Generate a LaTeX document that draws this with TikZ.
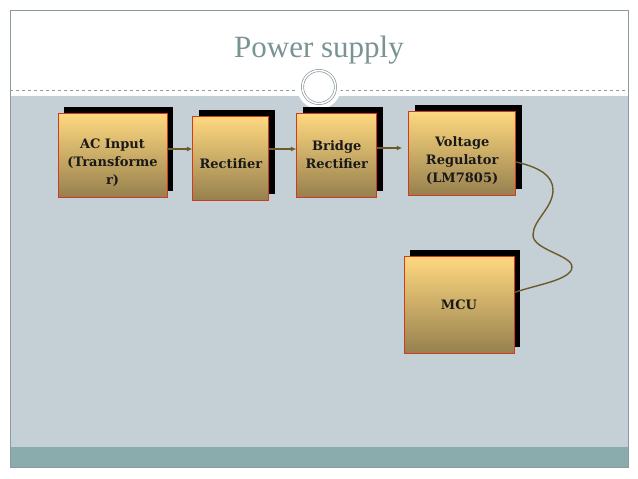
\documentclass[tikz,border=0pt]{standalone}
\usepackage{fontspec}
\setmainfont{DejaVu Serif}
\newfontfamily\headfont{Liberation Serif}
\usetikzlibrary{arrows.meta, positioning, shadows}

\definecolor{slidegray}{HTML}{C5D0D6}
\definecolor{bandteal}{HTML}{8AACAD}
\definecolor{framegray}{HTML}{8A9A9E}
\definecolor{headteal}{HTML}{7A9494}
\definecolor{boxtop}{HTML}{FFD980}
\definecolor{boxbot}{HTML}{96804E}
\definecolor{boxedge}{HTML}{CF3B22}
\definecolor{wireolive}{HTML}{6E5A28}

\begin{document}
\begin{tikzpicture}[
    x=1pt, y=-1pt,
    >=Latex,
    blockbox/.style={draw=boxedge, line width=0.9pt, rectangle,
        top color=boxtop, bottom color=boxbot,
        general shadow={fill=black, shadow xshift=6pt, shadow yshift=6pt},
        text width=2.6cm, align=center, inner sep=2pt,
        font=\fontsize{13}{18}\selectfont\bfseries, text=black!90},
    lowtext/.style={execute at begin node={\rule{0pt}{#1}}},
    flow/.style={draw=wireolive, line width=1.3pt,
        -{Latex[length=5.5pt, width=5pt]}},
    wire/.style={draw=wireolive, line width=1.4pt},
    titletext/.style={font=\headfont\fontsize{31}{33}\selectfont, text=headteal}
]

% Slide background
\fill[white] (0,0) rectangle (638,479);
\fill[slidegray] (10,96) rectangle (628,447);
\fill[bandteal] (10,447) rectangle (628,467);
\draw[framegray, line width=0.8pt] (10,10) rectangle (628,467);
\draw[framegray, dashed, line width=0.6pt] (10,90) -- (628,90);

% Title and ornament
\node[titletext] (title) at (319,50) {Power supply};
\node[circle, fill=white, minimum size=44pt] (halo) at (319,87) {};
\node[circle, draw=framegray, double=white, double distance=1.5pt,
    line width=0.7pt, minimum size=33pt] (ornament) at (319,87) {};

% Nodes
\node[blockbox, lowtext=26pt, minimum width=109pt, minimum height=84pt, text width=104pt]
    (acin) at (112.5,155) {AC Input\\(Transforme\\r)};
\node[blockbox, lowtext=21pt, minimum width=76pt, minimum height=84pt, text width=72pt,
    right=25pt of acin, yshift=-3pt] (rect) {Rectifier};
\node[blockbox, minimum width=80pt, minimum height=84pt, text width=76pt,
    right=27pt of rect, yshift=3pt] (bridge) {Bridge\\Rectifier};
\node[blockbox, lowtext=25pt, minimum width=107pt, minimum height=84pt, text width=100pt,
    right=31pt of bridge, yshift=2pt] (volt) {Voltage\\Regulator\\(LM7805)};
\node[blockbox, minimum width=110pt, minimum height=97pt, text width=100pt]
    (mcu) at (459,304.5) {MCU};

% Paths
\draw[flow] ([yshift=6pt]acin.east) -- ([yshift=6pt]acin.east -| rect.west);
\draw[flow] ([yshift=9pt]rect.east) -- ([yshift=9pt]rect.east -| bridge.west);
\draw[flow, shorten >=6pt] ([yshift=7pt]bridge.east) -- ([yshift=7pt]bridge.east -| volt.west);
\draw[wire] ([yshift=-9pt]volt.east)
    .. controls (538,167) and (553,175) .. (553,190)
    .. controls (553,208) and (533,220) .. (533,235)
    .. controls (533,250) and (572,255) .. (572,267)
    .. controls (572,280) and (535,285) .. ([yshift=12pt]mcu.east);

\end{tikzpicture}
\end{document}
